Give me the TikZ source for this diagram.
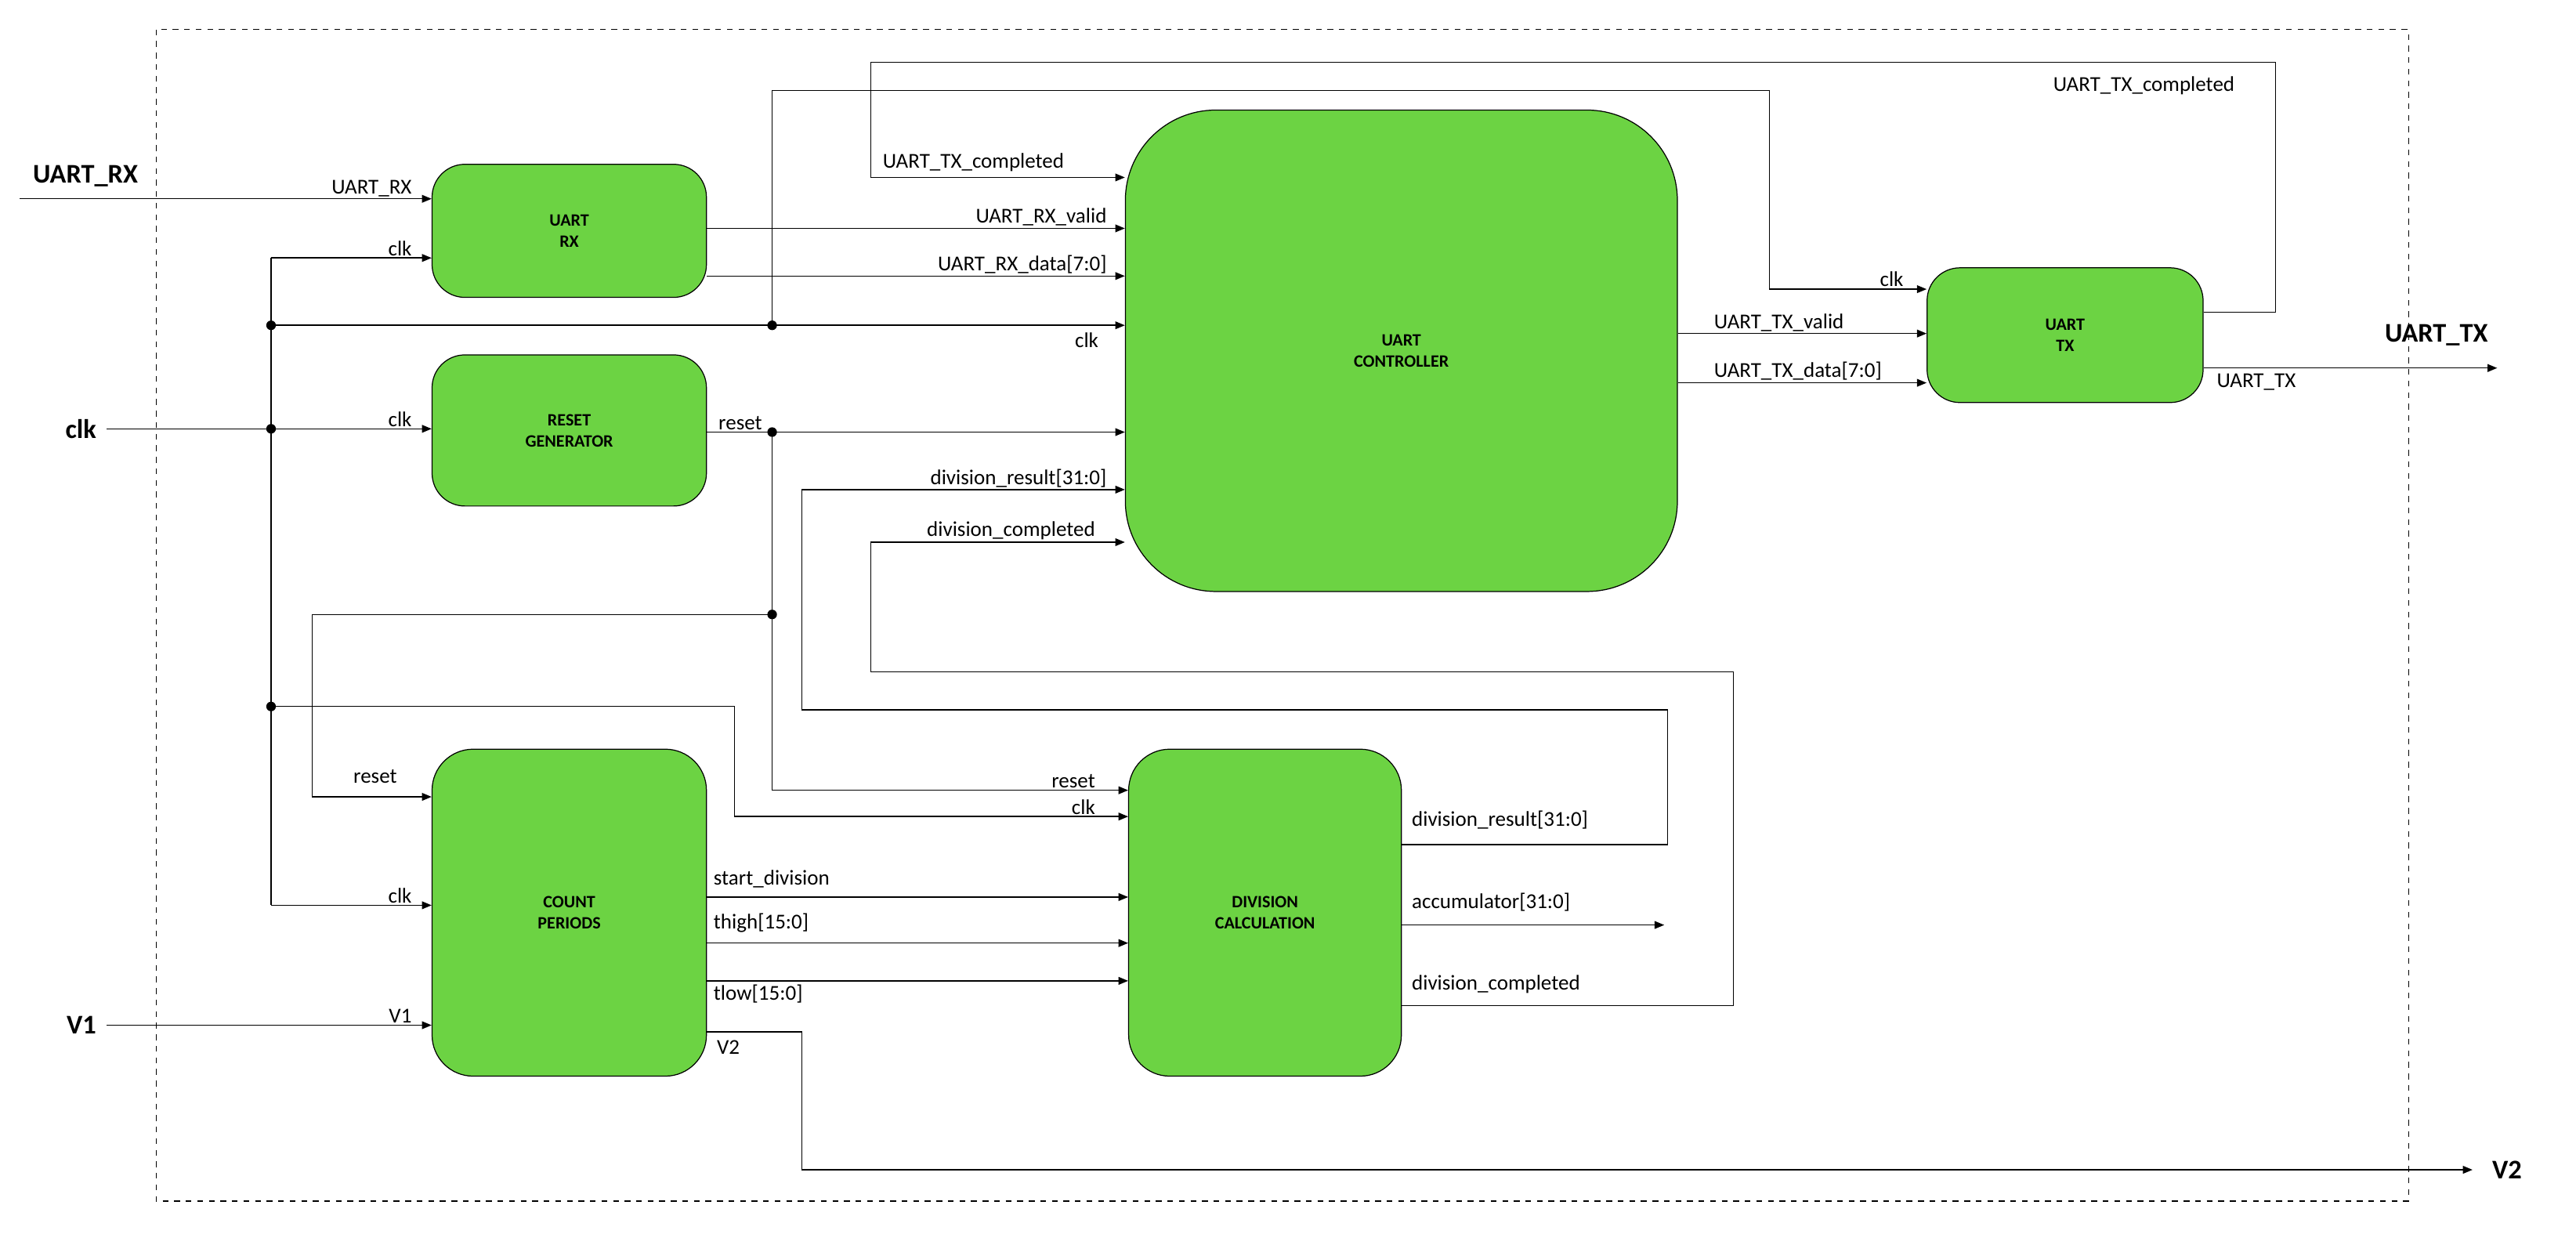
\documentclass[tikz,border=0pt]{standalone}
\usepackage{fontspec}
\setmainfont{Carlito}
\usetikzlibrary{arrows.meta}
\definecolor{blkgreen}{RGB}{108,211,67}
\tikzset{
  blk/.style={draw=black, fill=blkgreen, line width=0.5pt, align=center,
    font=\fontsize{9}{11}\selectfont\bfseries},
  wire/.style={-{Triangle[length=5pt,width=4pt]}, line width=0.6pt},
  line/.style={line width=0.6pt},
  lbl/.style={font=\fontsize{11}{13}\selectfont, inner sep=1pt},
  io/.style={font=\fontsize{14}{16}\selectfont\bfseries, inner sep=1pt},
  dot/.style={circle, fill, inner sep=0pt, minimum size=5pt}
}
\begin{document}
\begin{tikzpicture}[x=0.03cm, y=-0.03cm]
  \useasboundingbox (0,0) rectangle (1568,751);
  \draw[dashed, line width=0.5pt] (95,18) rectangle (1466,731);

  % blocks
  \node[blk, minimum width=5.01cm, minimum height=2.43cm, rounded corners=0.6cm] (rx) at (346.5,140.5) {UART\\RX};
  \node[blk, minimum width=5.01cm, minimum height=2.76cm, rounded corners=0.6cm] (rst) at (346.5,262) {RESET\\GENERATOR};
  \node[blk, minimum width=10.08cm, minimum height=8.79cm, rounded corners=1.65cm] (ctl) at (853,213.5) {UART\\CONTROLLER};
  \node[blk, minimum width=5.04cm, minimum height=2.46cm, rounded corners=0.6cm] (tx) at (1257,204) {UART\\TX};
  \node[blk, minimum width=5.01cm, minimum height=5.97cm, rounded corners=0.75cm] (cnt) at (346.5,555.5) {COUNT\\PERIODS};
  \node[blk, minimum width=4.98cm, minimum height=5.97cm, rounded corners=0.75cm] (div) at (770,555.5) {DIVISION\\CALCULATION};

  % inputs
  \coordinate (rxin) at (12,121);
  \coordinate (clkin) at (65,261);
  \coordinate (v1in) at (65,624);
  \node[io] at (52,107) {UART\_RX};
  \node[io, anchor=east] at (60,261) {clk};
  \node[io, anchor=east] at (60,624) {V1};
  \draw[wire] (rxin) -- (rxin -| rx.west);
  \node[lbl, anchor=south east] at (252,121) {UART\_RX};
  \draw[wire] (v1in) -- (v1in -| cnt.west);
  \node[lbl, anchor=south east] at (252,624) {V1};

  % clock tree
  \coordinate (c1) at (165,157);
  \coordinate (c2) at (165,198);
  \coordinate (c3) at (165,261);
  \coordinate (c4) at (165,430);
  \coordinate (c5) at (165,551);
  \coordinate (c6) at (470,198);
  \draw[wire] (clkin) -- (clkin -| rst.west);
  \draw[line] (c1) -- (c5);
  \draw[wire] (c1) -- (c1 -| rx.west);
  \draw[wire] (c2) -- (c2 -| ctl.west);
  \draw[wire] (c5) -- (c5 -| cnt.west);
  \draw[wire] (c4) -- (447,430) -- (447,497) -- (div.west |- 0,497);
  \draw[wire] (c6) -- (470,55) -- (1077,55) -- (1077,176) -- (tx.west |- 0,176);
  \foreach \p in {c2,c3,c4,c6} \node[dot] at (\p) {};
  \node[lbl, anchor=south east] at (252,157) {clk};
  \node[lbl, anchor=south east] at (252,261) {clk};
  \node[lbl, anchor=south east] at (252,551) {clk};
  \node[lbl, anchor=north east] at (670,201) {clk};
  \node[lbl, anchor=south east] at (1160,176) {clk};
  \node[lbl, anchor=south east] at (668,497) {clk};

  % reset tree
  \coordinate (r1) at (470,263);
  \coordinate (r2) at (470,374);
  \draw[wire] (rst.east |- 0,263) -- (ctl.west |- 0,263);
  \draw[wire] (r1) -- (470,481) -- (div.west |- 0,481);
  \draw[wire] (r2) -- (190,374) -- (190,485) -- (cnt.west |- 0,485);
  \foreach \p in {r1,r2} \node[dot] at (\p) {};
  \node[lbl, anchor=south west] at (436,263) {reset};
  \node[lbl, anchor=south east] at (668,481) {reset};
  \node[lbl, anchor=south east] at (243,478) {reset};

  % rx to controller
  \draw[wire] (rx.east |- 0,139) -- (ctl.west |- 0,139);
  \draw[wire] (rx.east |- 0,168) -- (ctl.west |- 0,168);
  \node[lbl, anchor=south east] at (675,139) {UART\_RX\_valid};
  \node[lbl, anchor=south east] at (675,168) {UART\_RX\_data[7:0]};

  % tx completed
  \draw[wire] (tx.east |- 0,190) -- (1385,190) -- (1385,38) -- (530,38) -- (530,108) -- (ctl.west |- 0,108);
  \node[lbl, anchor=south] at (1305,59) {UART\_TX\_completed};
  \node[lbl, anchor=south west] at (536,106) {UART\_TX\_completed};

  % controller to tx
  \draw[wire] (ctl.east |- 0,203) -- (tx.west |- 0,203);
  \draw[wire] (ctl.east |- 0,233) -- (tx.west |- 0,233);
  \node[lbl, anchor=south west] at (1042,203) {UART\_TX\_valid};
  \node[lbl, anchor=south west] at (1042,233) {UART\_TX\_data[7:0]};

  % tx output
  \coordinate (txout) at (1520,224);
  \draw[wire] (tx.east |- 0,224) -- (txout);
  \node[lbl, anchor=north west] at (1348,226) {UART\_TX};
  \node[io] at (1483,204) {UART\_TX};

  % division feedback
  \draw[wire] (div.east |- 0,514) -- (1015,514) -- (1015,432) -- (488,432) -- (488,298) -- (ctl.west |- 0,298);
  \draw[wire] (div.east |- 0,612) -- (1055,612) -- (1055,409) -- (530,409) -- (530,330) -- (ctl.west |- 0,330);
  \coordinate (accout) at (1013,563);
  \draw[wire] (div.east |- 0,563) -- (accout);
  \node[lbl, anchor=south east] at (675,298) {division\_result[31:0]};
  \node[lbl, anchor=south east] at (668,330) {division\_completed};
  \node[lbl, anchor=south west] at (858,506) {division\_result[31:0]};
  \node[lbl, anchor=south west] at (858,556) {accumulator[31:0]};
  \node[lbl, anchor=south west] at (858,606) {division\_completed};

  % count to division
  \draw[wire] (cnt.east |- 0,546) -- (div.west |- 0,546);
  \draw[wire] (cnt.east |- 0,574) -- (div.west |- 0,574);
  \draw[wire] (cnt.east |- 0,597) -- (div.west |- 0,597);
  \node[lbl, anchor=south west] at (433,542) {start\_division};
  \node[lbl, anchor=south west] at (433,569) {thigh[15:0]};
  \node[lbl, anchor=south west] at (433,612) {tlow[15:0]};

  % v2 output
  \coordinate (v2out) at (1505,712);
  \draw[wire] (cnt.east |- 0,628) -- (488,628) -- (488,712) -- (v2out);
  \node[lbl, anchor=north west] at (435,632) {V2};
  \node[io] at (1526,712) {V2};
\end{tikzpicture}
\end{document}
